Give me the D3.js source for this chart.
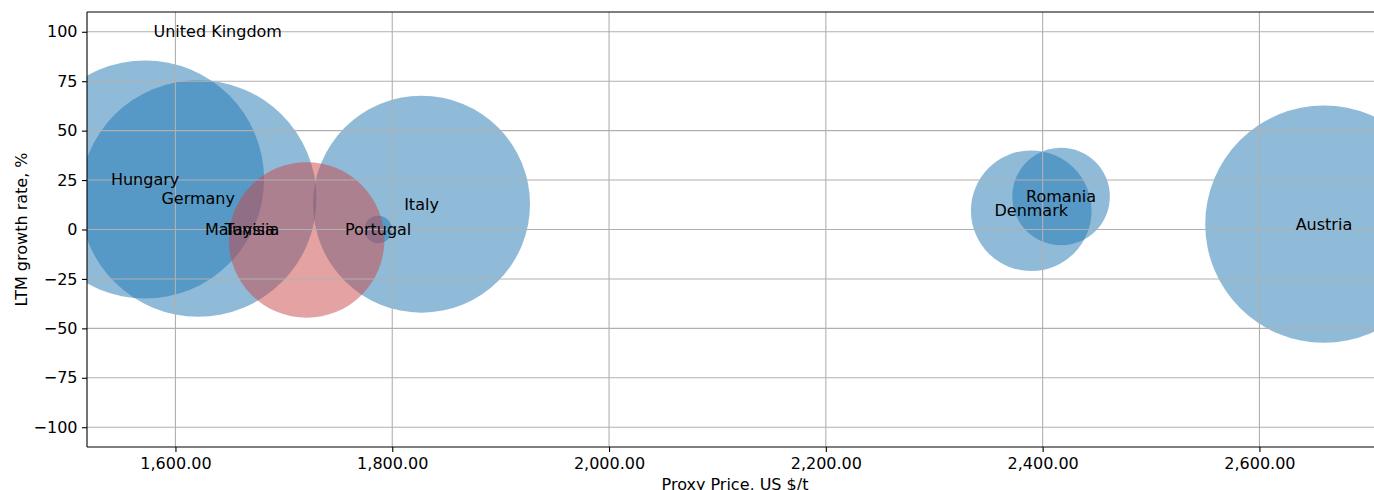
<!DOCTYPE html>
<html>
<head>
<meta charset="utf-8">
<script src="https://cdn.jsdelivr.net/npm/d3@7"></script>
<style>
  body { margin: 0; background: #fff; }
  svg { display: block; font-family: "DejaVu Sans", sans-serif; }
</style>
</head>
<body>
<svg id="chart"></svg>
<script>
// data
var countries = ["Hungary", "Germany", "United Kingdom", "Malaysia", "Tunisia", "Italy", "Portugal", "Denmark", "Romania", "Austria"];
var price     = [1572, 1621, 1639, 1659.5, 1670.5, 1827, 1787, 2389.5, 2417, 2659.5];
var growth    = [25.3, 15.7, 100, 0, 0, 12.8, 0, 9.5, 16.7, 2.7];
var volume    = [141.6, 140, 0, 0, 0, 117.7, 1.9, 36.4, 23.8, 140.9];

// the highlighted (red) bubble
var hlPrice  = [1721];
var hlGrowth = [-5.3];
var hlVolume = [60.5];

var xTicks = [1600, 1800, 2000, 2200, 2400, 2600];
var yTicks = [-100, -75, -50, -25, 0, 25, 50, 75, 100];

var W = 1374, H = 490;
var margin = {top: 12, right: -9, bottom: 43, left: 87};
var x0 = margin.left, x1 = W - margin.right;
var y0 = margin.top,  y1 = H - margin.bottom;

var x = d3.scaleLinear().domain([1518.4, 2714]).range([x0, x1]);
var y = d3.scaleLinear().domain([-110, 110]).range([y1, y0]);
var r = d3.scaleSqrt().domain([0, 100]).range([0, 100]);

var svg = d3.select("#chart")
  .attr("width", W)
  .attr("height", H);

svg.append("clipPath").attr("id", "plot")
  .append("rect")
  .attr("x", x0).attr("y", y0)
  .attr("width", x1 - x0).attr("height", y1 - y0);

var data = countries.map(function(c, i) {
  return {name: c, price: price[i], growth: growth[i], volume: volume[i]};
});
var hl = hlPrice.map(function(p, i) {
  return {price: p, growth: hlGrowth[i], volume: hlVolume[i]};
});

var plot = svg.append("g").attr("clip-path", "url(#plot)");

plot.selectAll("circle.country")
  .data(data.filter(function(d) { return d.volume > 0; }))
  .enter().append("circle")
  .attr("class", "country")
  .attr("cx", function(d) { return x(d.price); })
  .attr("cy", function(d) { return y(d.growth); })
  .attr("r", function(d) { return r(d.volume); })
  .attr("fill", "#1f77b4")
  .attr("fill-opacity", 0.5);

plot.selectAll("circle.hl")
  .data(hl)
  .enter().append("circle")
  .attr("class", "hl")
  .attr("cx", function(d) { return x(d.price); })
  .attr("cy", function(d) { return y(d.growth); })
  .attr("r", function(d) { return r(d.volume); })
  .attr("fill", "#c94545")
  .attr("fill-opacity", 0.5);

// grid (matplotlib draws it above the scatter)
var grid = svg.append("g").attr("clip-path", "url(#plot)");
grid.selectAll("line.gx")
  .data(xTicks).enter().append("line")
  .attr("x1", function(d) { return x(d); })
  .attr("x2", function(d) { return x(d); })
  .attr("y1", y0).attr("y2", y1)
  .attr("stroke", "#b0b0b0").attr("stroke-width", 1.1);
grid.selectAll("line.gy")
  .data(yTicks).enter().append("line")
  .attr("y1", function(d) { return y(d); })
  .attr("y2", function(d) { return y(d); })
  .attr("x1", x0).attr("x2", x1)
  .attr("stroke", "#b0b0b0").attr("stroke-width", 1.1);

// axes
var xAxis = svg.append("g")
  .attr("transform", "translate(0," + y1 + ")")
  .call(d3.axisBottom(x).tickValues(xTicks).tickFormat(d3.format(",.2f"))
    .tickSizeInner(5).tickSizeOuter(0).tickPadding(5.5));

var yAxis = svg.append("g")
  .attr("transform", "translate(" + x0 + ",0)")
  .call(d3.axisLeft(y).tickValues(yTicks).tickFormat(d3.format("d"))
    .tickSizeInner(5).tickSizeOuter(0).tickPadding(4.5));

[xAxis, yAxis].forEach(function(a) {
  a.select(".domain").remove();
  a.selectAll("text").attr("font-size", 16).attr("font-family", "DejaVu Sans").attr("fill", "#000");
  a.selectAll("line").attr("stroke", "#000").attr("stroke-width", 1.1);
});

// spines: left, top, bottom
svg.append("line").attr("x1", x0).attr("x2", x0).attr("y1", y0).attr("y2", y1)
  .attr("stroke", "#000").attr("stroke-width", 1.1);
svg.append("line").attr("x1", x0).attr("x2", x1).attr("y1", y0).attr("y2", y0)
  .attr("stroke", "#000").attr("stroke-width", 1.1);
svg.append("line").attr("x1", x0).attr("x2", x1).attr("y1", y1).attr("y2", y1)
  .attr("stroke", "#000").attr("stroke-width", 1.1);

// country labels
svg.selectAll("text.label")
  .data(data).enter().append("text")
  .attr("class", "label")
  .attr("x", function(d) { return x(d.price); })
  .attr("y", function(d) { return y(d.growth); })
  .attr("dy", "0.35em")
  .attr("text-anchor", "middle")
  .attr("font-size", 16)
  .attr("fill", "#000")
  .text(function(d) { return d.name; });

svg.append("text")
  .attr("x", (x0 + x1) / 2)
  .attr("y", 489.5)
  .attr("text-anchor", "middle")
  .attr("font-size", 16)
  .text("Proxy Price, US $/t");

svg.append("text")
  .attr("transform", "translate(26.5," + ((y0 + y1) / 2) + ") rotate(-90)")
  .attr("text-anchor", "middle")
  .attr("font-size", 16)
  .text("LTM growth rate, %");
</script>
</body>
</html>
